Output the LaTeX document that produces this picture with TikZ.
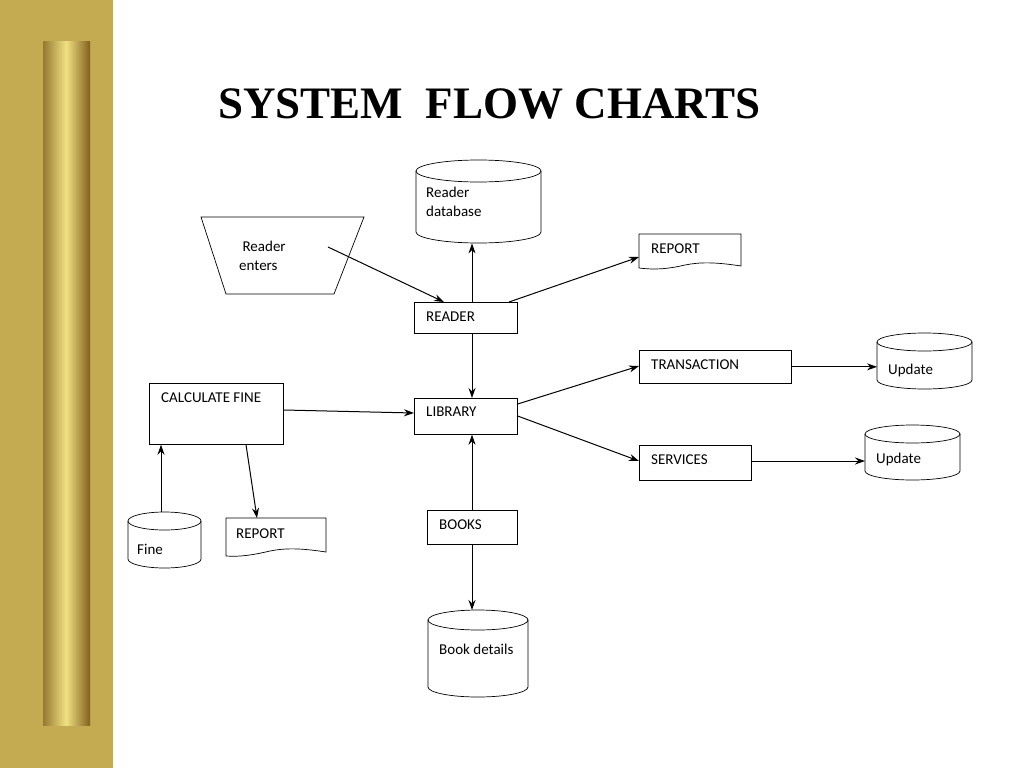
\documentclass[tikz,border=0pt]{standalone}
\usepackage{fontspec}
\setmainfont{Carlito}
\newfontfamily\titlefont{Liberation Serif}
\usetikzlibrary{arrows.meta}
\newcommand\mycyl[6]{% name, xl, yt, w, h, ry
  \node[inner sep=0pt,minimum width=#4pt,minimum height=#5pt,anchor=north west] (#1) at (#2,#3) {};
  \draw[line width=0.7pt] ({#2+#4/2},{#3+#6}) ellipse [x radius={#4/2},y radius=#6];
  \draw[line width=0.7pt] (#2,{#3+#6}) -- (#2,{#3+#5-#6}) arc[start angle=180,end angle=0,x radius={#4/2},y radius=#6] -- ({#2+#4},{#3+#6});
}
\begin{document}
\begin{tikzpicture}[x=1pt,y=-1pt,
  box/.style={draw,line width=0.7pt,minimum width=#1,inner sep=0pt,anchor=north west},
  hold/.style={minimum width=#1,inner sep=0pt,anchor=north west},
  txt/.style={font=\fontsize{15}{19}\selectfont,anchor=north west,inner sep=0pt,align=left,yshift=-3pt},
  arr/.style={-{Stealth[length=10pt,width=7pt]},line width=1pt}]
\useasboundingbox (0,0) rectangle (1024,768);
\fill[fill={rgb,255:red,196;green,170;blue,80}] (0,0) rectangle (113,768);
\shade[left color={rgb,255:red,150;green,120;blue,50},right color={rgb,255:red,240;green,225;blue,130}] (43,42) rectangle (66,725);
\shade[left color={rgb,255:red,240;green,225;blue,130},right color={rgb,255:red,130;green,95;blue,30}] (66,42) rectangle (90,725);
\node[font=\titlefont\bfseries\fontsize{45}{50}\selectfont,anchor=base west,inner sep=0pt] (title) at (218,118) {SYSTEM\ \ FLOW CHARTS};

% cylinders
\mycyl{rdb}{416}{160}{125}{83}{11}
\node[txt] at (426,184) {Reader\\database};
\mycyl{up1}{877}{333}{95}{56}{9}
\node[txt] at (888,361) {Update};
\mycyl{up2}{865}{425}{95}{55}{9}
\node[txt] at (876,450) {Update};
\mycyl{fine}{128}{512}{73}{56}{9}
\node[txt] at (137,541) {Fine};
\mycyl{bd}{428}{610}{100}{87}{10}
\node[txt] at (439,641) {Book details};

% trapezoid
\draw[line width=0.7pt] (201,217) -- (364,217) -- (334,294) -- (226,294) -- cycle;
\node[txt] (re) at (239,238) {\ Reader\\enters};
\coordinate (reo) at (328,247);

% documents
\node[hold=102pt,minimum height=34pt] (rep1) at (639,234) {};
\draw[line width=0.7pt] (639,234) -- (741,234) -- (741,266) .. controls (715,262) and (700,262) .. (685,265) .. controls (668,269) and (655,270) .. (639,268) -- cycle;
\node[txt] at (651,241) {REPORT};
\node[hold=100pt,minimum height=38pt] (rep2) at (226,518) {};
\draw[line width=0.7pt] (226,518) -- (326,518) -- (326,552) .. controls (300,548) and (285,548) .. (270,551) .. controls (253,555) and (240,557) .. (226,556) -- cycle;
\node[txt] at (236,526) {REPORT};

% boxes
\node[box=103pt,minimum height=31pt] (reader) at (414,302) {};
\node[txt] at (426,309) {READER};
\node[box=152pt,minimum height=33pt] (trans) at (639,350) {};
\node[txt] at (651,357) {TRANSACTION};
\node[box=134pt,minimum height=61pt] (calc) at (149,383) {};
\node[txt] at (161,390) {CALCULATE FINE};
\node[box=103pt,minimum height=36pt] (lib) at (414,398) {};
\node[txt] at (426,404) {LIBRARY};
\node[box=112pt,minimum height=35pt] (serv) at (639,445) {};
\node[txt] at (651,452) {SERVICES};
\node[box=90pt,minimum height=34pt] (books) at (427,510) {};
\node[txt] at (439,517) {BOOKS};

% arrows
\draw[arr] (reo) -- (reader.north -| 444,0);
\draw[arr] (reader.north -| 472,0) -- (rdb.south -| 472,0);
\draw[arr] (reader.north -| 509,0) -- (rep1.west |- 0,257);
\draw[arr] (reader.south -| 472,0) -- (lib.north -| 472,0);
\draw[arr] (lib.east |- 0,404) -- (trans.west |- 0,366);
\draw[arr] (lib.east |- 0,416) -- (serv.west |- 0,461);
\draw[arr] (trans.east) -- (up1.west |- trans.east);
\draw[arr] (serv.east |- 0,461) -- (up2.west |- 0,461);
\draw[arr] (calc.east |- 0,410) -- (lib.west |- 0,413);
\draw[arr] (fine.north -| 161,0) -- (calc.south -| 161,0);
\draw[arr] (calc.south -| 246,0) -- (rep2.north -| 257,0);
\draw[arr] (books.north -| 472,0) -- (lib.south -| 472,0);
\draw[arr] (books.south -| 472,0) -- (bd.north -| 472,0);
\end{tikzpicture}
\end{document}
